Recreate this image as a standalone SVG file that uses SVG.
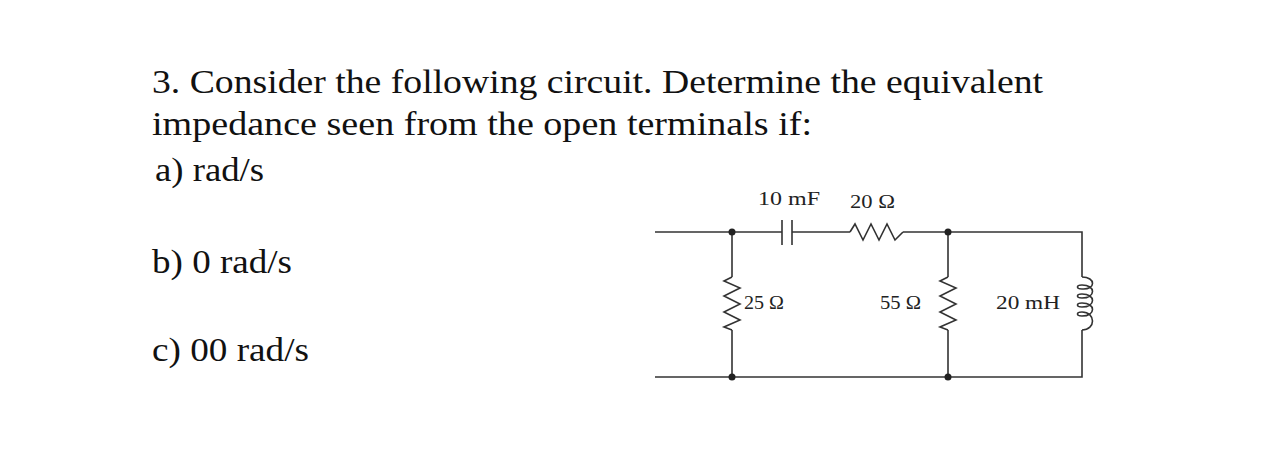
<svg xmlns="http://www.w3.org/2000/svg" width="1284" height="456" viewBox="0 0 1284 456">
<style>
.t{font-family:"Liberation Serif",serif;font-size:34px;fill:#111}
.l{font-family:"Liberation Serif",serif;font-size:18px;fill:#222}
.w{stroke:#333;stroke-width:1.6;fill:none}
.d{fill:#222}
</style>
<rect width="1284" height="456" fill="#fff"/>
<g id="text">
<text class="t" x="152" y="93" textLength="891" lengthAdjust="spacingAndGlyphs">3. Consider the following circuit. Determine the equivalent</text>
<text class="t" x="152" y="135" textLength="660" lengthAdjust="spacingAndGlyphs">impedance seen from the open terminals if:</text>
<text class="t" x="155" y="181" textLength="109" lengthAdjust="spacingAndGlyphs">a) rad/s</text>
<text class="t" x="152" y="273" textLength="140" lengthAdjust="spacingAndGlyphs">b) 0 rad/s</text>
<text class="t" x="152" y="361" textLength="157" lengthAdjust="spacingAndGlyphs">c) 00 rad/s</text>
</g>
<g id="connectors">
<path class="w" d="M655 232H782M792 232H850M903 232H1082V277M1082 330V377H655M732 232V277M732 330V377M948 232V277M948 330V377"/>
</g>
<g id="C1"><path class="w" stroke-width="2" d="M782 220V245M792 220V245"/><text class="l" x="758" y="205" textLength="62" lengthAdjust="spacingAndGlyphs">10 mF</text></g>
<g id="R20"><path class="w" d="M850 232L855 224L863 240L871 224L879 240L887 224L895 240L903 232"/><text class="l" x="850" y="208" textLength="45" lengthAdjust="spacingAndGlyphs">20 Ω</text></g>
<g id="R25"><path class="w" d="M732 277L724 281L740 288L724 296L740 304L724 312L740 320L724 327L732 330"/><text class="l" x="744" y="309" textLength="40" lengthAdjust="spacingAndGlyphs">25 Ω</text></g>
<g id="R55"><path class="w" d="M948 277L940 281L956 288L940 296L956 304L940 312L956 320L940 327L948 330"/><text class="l" x="880" y="309" textLength="41" lengthAdjust="spacingAndGlyphs">55 Ω</text></g>
<g id="L"><path class="w" d="M1082 277C1096 277 1096 290 1082 289C1076 289 1076 285 1082 285C1096 285 1096 298 1082 298C1076 298 1076 294 1082 294C1096 294 1096 307 1082 307C1076 307 1076 303 1082 303C1096 303 1096 316 1082 316C1076 316 1076 312 1082 312C1096 312 1096 330 1082 330"/><text class="l" x="996" y="309" textLength="64" lengthAdjust="spacingAndGlyphs">20 mH</text></g>
<g id="nodes"><circle class="d" cx="732" cy="232" r="3.5"/><circle class="d" cx="948" cy="232" r="3.5"/><circle class="d" cx="732" cy="377" r="3.5"/><circle class="d" cx="948" cy="377" r="3.5"/></g>
</svg>
